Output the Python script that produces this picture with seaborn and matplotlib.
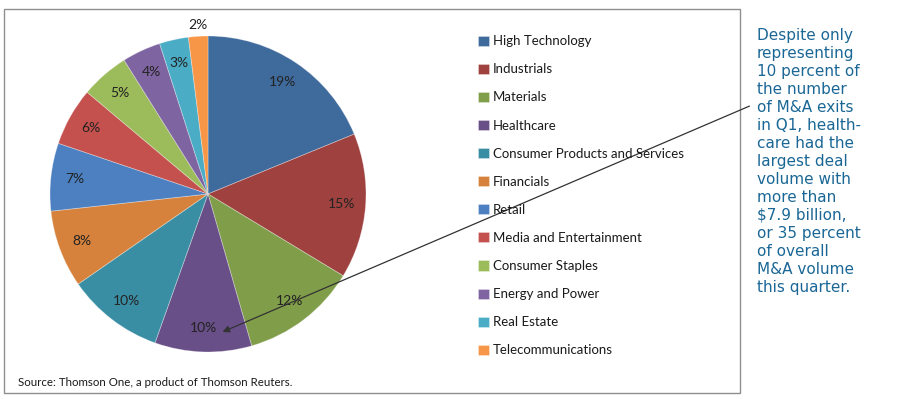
import matplotlib
matplotlib.use("Agg")
import matplotlib.pyplot as plt
import matplotlib.patches as mpatches
import numpy as np
import seaborn as sns

sns.set_theme(style="white")
plt.rcParams['font.family'] = ['Lato', 'DejaVu Sans']

categories = ["High Technology", "Industrials", "Materials", "Healthcare",
              "Consumer Products and Services", "Financials", "Retail",
              "Media and Entertainment", "Consumer Staples", "Energy and Power",
              "Real Estate", "Telecommunications"]
shares = [19, 15, 12, 10, 10, 8, 7, 6, 5, 4, 3, 2]
colors = ["#3F6A9C", "#9E413F", "#809D4A", "#684F87", "#3A8EA4", "#D6823C",
          "#4C80C0", "#C4514E", "#9CBB5A", "#7F64A2", "#4BACC6", "#F79646"]
source = "Source: Thomson One, a product of Thomson Reuters."
note = ("Despite only\nrepresenting\n10 percent of\nthe number\nof M&A exits\n"
        "in Q1, health-\ncare had the\nlargest deal\nvolume with\nmore than\n"
        "$7.9 billion,\nor 35 percent\nof overall\nM&A volume\nthis quarter.")

W, H = 900, 399
fig = plt.figure(figsize=(9, 3.99), dpi=100)
fig.patch.set_facecolor("white")

# frame around the chart
fig.add_artist(mpatches.Rectangle((4 / W, (H - 393) / H), 736 / W, 384 / H,
                                  transform=fig.transFigure, fill=False,
                                  edgecolor="#8f8f8f", linewidth=1.0))

cx, cy, R = 208, 194, 158
lim = 1.1
side = 2 * lim * R
ax = fig.add_axes([(cx - side / 2) / W, (H - cy - side / 2) / H, side / W, side / H])
wedges, _ = ax.pie(shares, colors=colors, startangle=90, counterclock=False,
                   radius=1.0,
                   wedgeprops=dict(edgecolor=(1, 1, 1, 0.35), linewidth=0.6))
ax.set_xlim(-lim, lim)
ax.set_ylim(-lim, lim)
ax.set_aspect("equal")
ax.axis("off")

for w, v in zip(wedges, shares):
    ang = np.deg2rad((w.theta1 + w.theta2) / 2)
    r = 1.07 if v <= 2 else 0.85
    ax.text(r * np.cos(ang), r * np.sin(ang), f"{v}%", ha="center", va="center",
            fontsize=10, color="#222222")

leg = fig.legend(wedges, categories, loc="upper left",
                 bbox_to_anchor=(473 / W, 1 - 30 / H), frameon=False,
                 fontsize=9.5, labelspacing=1.22, handlelength=0.8,
                 handleheight=0.8, handletextpad=0.3, borderaxespad=0)
for t in leg.get_texts():
    t.set_color("#1a1a1a")

fig.text(18 / W, (H - 382) / H, source, fontsize=8.3, va="center", ha="left",
         color="#1a1a1a")

fig.text(757 / W, 1 - 28 / H, note, fontsize=11, va="top", ha="left",
         color="#1A6796", linespacing=1.25, family="DejaVu Sans")

fig.add_artist(mpatches.FancyArrowPatch((752, H - 105), (220, H - 333),
                                        transform=None, arrowstyle="-|>",
                                        mutation_scale=10, color="#333333",
                                        linewidth=0.9))

fig.savefig("out.png", dpi=100, facecolor="white")
